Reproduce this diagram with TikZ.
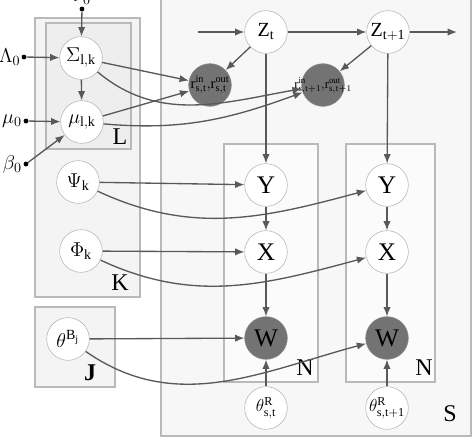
\documentclass[tikz,border=0pt]{standalone}
\usepackage{fix-cm}
\usepackage{fontspec}
\setmainfont{Liberation Serif}
\usepackage{tikz}
\usetikzlibrary{arrows.meta, positioning}

\begin{document}
\begin{tikzpicture}[x=0.75pt, y=0.75pt,
        font=\fontsize{15}{17}\selectfont,
        plate/.style={draw=gray!55, fill=gray!9, line width=0.8pt},
        latent/.style={circle, draw=gray!60, fill=white, minimum size=32pt, inner sep=0pt},
        observed/.style={latent, fill=black!55, draw=black!45},
        hyper/.style={circle, fill=black, inner sep=1.3pt},
        edge/.style={-{Latex[length=7pt,width=5.5pt]}, draw=black!65, line width=1pt}]
    \useasboundingbox (0,0) rectangle (474,-440);

    % plates
    \draw[plate, fill=gray!6] (161,8) rectangle (471,-436);
    \draw[plate] (35,-18) rectangle (140,-297);
    \draw[plate, fill=gray!13] (46,-23) rectangle (131,-149);
    \draw[plate] (35,-307) rectangle (115,-387);
    \draw[plate, fill=gray!3] (224,-144) rectangle (318,-382);
    \draw[plate, fill=gray!3] (346,-144) rectangle (435,-382);

    \node[font=\fontsize{18}{20}\selectfont] (lblL) at (120,-137) {L};
    \node[font=\fontsize{18}{20}\selectfont] (lblK) at (120,-283) {K};
    \node[font=\fontsize{18}{20}\selectfont\bfseries] (lblJ) at (90,-373) {J};
    \node[font=\fontsize{18}{20}\selectfont] (lblN1) at (305,-368) {N};
    \node[font=\fontsize{18}{20}\selectfont] (lblN2) at (424,-368) {N};
    \node[font=\fontsize{18}{20}\selectfont] (lblS) at (450,-414) {S};

    % hyperparameters
    \node[hyper, label={[anchor=south, inner sep=1pt]north:$\nu_0$}] (nu0) at (82,-9) {};
    \node[hyper, label={[inner sep=0.5pt]left:$\Lambda_0$}] (lam0) at (24,-57) {};
    \node[hyper, label={[inner sep=1pt]left:$\mu_0$}] (mu0) at (26,-121) {};
    \node[hyper, label={[inner sep=1pt]left:$\beta_0$}] (beta0) at (26,-164) {};

    % nodes
    \node[latent] (sig) at (81,-58) {$\Sigma_{\mathrm{l,k}}$};
    \node[latent] (mu) at (82,-122) {$\mu_{\mathrm{l,k}}$};
    \node[latent] (psi) at (78,-182) {$\Psi_{\mathrm{k}}$};
    \node[latent] (phi) at (81,-251) {$\Phi_{\mathrm{k}}$};
    \node[latent] (thb) at (68,-339) {$\theta^{\mathrm{B_j}}$};

    \node[latent] (zt) at (266,-32) {$\mathrm{Z_t}$};
    \node[latent] (zt1) at (388,-32) {$\mathrm{Z_{t+1}}$};
    \node[observed, label={[font=\fontsize{11}{13}\selectfont, inner sep=0pt]center:$\mathrm{r^{in}_{s,t}{,}r^{out}_{s,t}}$}] (rt) at (210,-85) {};
    \node[observed, label={[font=\fontsize{9.5}{11}\selectfont, inner sep=0pt]center:$\mathrm{r^{in}_{s,t+1}{,}r^{out}_{s,t+1}}$}] (rt1) at (323,-85) {};

    \node[latent, font=\fontsize{19}{21}\selectfont] (y1) at (266,-185) {Y};
    \node[latent, font=\fontsize{19}{21}\selectfont] (x1) at (266,-252) {X};
    \node[observed, font=\fontsize{19}{21}\selectfont] (w1) at (266,-338) {W};
    \node[latent, font=\fontsize{13}{15}\selectfont] (thr1) at (266,-408) {$\theta^{\mathrm{R}}_{\mathrm{s,t}}$};

    \node[latent, font=\fontsize{19}{21}\selectfont] (y2) at (387,-185) {Y};
    \node[latent, font=\fontsize{19}{21}\selectfont] (x2) at (387,-252) {X};
    \node[observed, font=\fontsize{19}{21}\selectfont] (w2) at (387,-338) {W};
    \node[latent, font=\fontsize{13}{15}\selectfont] (thr2) at (387,-408) {$\theta^{\mathrm{R}}_{\mathrm{s,t+1}}$};

    \coordinate (zin) at (198,-32);
    \coordinate (zout) at (457,-32);

    % edges
    \draw[edge] (nu0) -- (sig);
    \draw[edge] (lam0) -- (sig);
    \draw[edge] (mu0) -- (mu);
    \draw[edge] (beta0) -- (mu);
    \draw[edge] (sig) -- (mu);

    \draw[edge] (sig) -- (rt);
    \draw[edge] (mu) -- (rt);
    \draw[edge] (sig) to[out=-40, in=190] (rt1);
    \draw[edge] (mu) to[out=-5, in=200] (rt1);

    \draw[edge] (zin) -- (zt);
    \draw[edge] (zt) -- (zt1);
    \draw[edge] (zt1) -- (zout);
    \draw[edge] (zt) -- (rt);
    \draw[edge] (zt1) -- (rt1);
    \draw[edge] (zt) -- (y1);
    \draw[edge] (zt1) -- (y2);

    \foreach \n in {1,2} {
        \draw[edge] (y\n) -- (x\n);
        \draw[edge] (x\n) -- (w\n);
        \draw[edge] (thr\n) -- (w\n);
    }

    \draw[edge] (psi) -- (y1);
    \draw[edge] (phi) -- (x1);
    \draw[edge] (thb) -- (w1);
    \draw[edge] (psi) to[out=-25, in=195] (y2);
    \draw[edge] (phi) to[out=-25, in=195] (x2);
    \draw[edge] (thb) to[out=-35, in=195] (w2);
\end{tikzpicture}
\end{document}
